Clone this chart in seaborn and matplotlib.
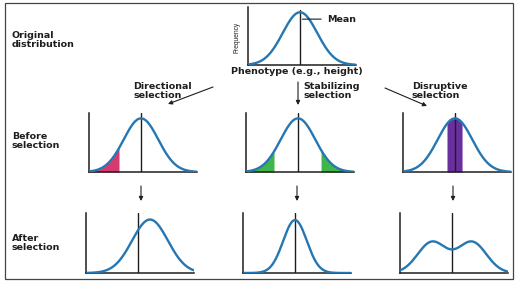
import numpy as np
import matplotlib
matplotlib.use("Agg")
import matplotlib.pyplot as plt
import seaborn as sns
from matplotlib.patches import Rectangle

sns.set_theme(style="white")
plt.rcParams['font.family'] = ['DejaVu Sans']

W, H = 521, 285

# ---------------- data ----------------
row_labels = ["Original\ndistribution", "Before\nselection", "After\nselection"]
selection_labels = ["Directional\nselection", "Stabilizing\nselection", "Disruptive\nselection"]
freq_label = "Frequency"
pheno_label = "Phenotype (e.g., height)"
mean_label = "Mean"

# Curves as Gaussian components: (centre, sd, weight), in units of the phenotype axis
original_components = [(0.0, 1.08, 1.0)]
before_components = [[(0.0, 1.08, 1.0)], [(0.0, 1.08, 1.0)], [(0.0, 1.08, 1.0)]]
after_components = [[(0.75, 1.12, 1.0)],
                    [(0.0, 0.74, 1.0)],
                    [(-1.25, 0.9, 1.0), (1.25, 0.9, 1.0)]]
original_peak = 1.0
before_peaks = [1.0, 1.0, 1.0]
after_peaks = [0.98, 0.97, 0.58]
# phenotype ranges hit by selection (shaded)
shade_ranges = [[(-3.25, -1.375)], [(-3.25, -1.5), (1.44, 3.5)], [(-0.5, 0.44)]]
shade_colors = ["#d63a6e", "#3fb54b", "#6a2f9f"]

XMIN, XMAX = -3.25, 3.5
BLUE = "#2577b3"
INK = "#1e1e1e"


def density(comps, peak, xs):
    ys = np.zeros_like(xs)
    for c, s, w in comps:
        ys += w * np.exp(-0.5 * ((xs - c) / s) ** 2)
    fine = np.linspace(XMIN, XMAX, 2000)
    ref = np.zeros_like(fine)
    for c, s, w in comps:
        ref += w * np.exp(-0.5 * ((fine - c) / s) ** 2)
    return ys / ref.max() * peak


fig = plt.figure(figsize=(W / 100, H / 100), dpi=100)
fig.patch.set_facecolor("white")


def panel(left, top, bottom, comps, peak, shades=(), shade_color=None, mean_top=1.0):
    ax = fig.add_axes([left / W, 1 - bottom / H, 108 / W, (bottom - top) / H])
    ax.patch.set_alpha(0)
    for lo, hi in shades:
        fx = np.linspace(lo, hi, 120)
        ax.fill_between(fx, density(comps, peak, fx), 0, color=shade_color, lw=0, zorder=1)
    ax.axvline(0, ymin=0, ymax=mean_top, color=INK, lw=1.0, zorder=2)
    xs = np.linspace(XMIN, XMAX, 500)
    ys = density(comps, peak, xs)
    sns.lineplot(x=xs, y=ys, ax=ax, color=BLUE, lw=1.7, estimator=None, zorder=3)
    ax.set_xlim(XMIN, XMAX)
    ax.set_ylim(0, 1.1)
    ax.set_xticks([])
    ax.set_yticks([])
    for s in ["top", "right"]:
        ax.spines[s].set_visible(False)
    for s in ["left", "bottom"]:
        ax.spines[s].set_color(INK)
        ax.spines[s].set_linewidth(1.1)
    ax.set_xlabel("")
    ax.set_ylabel("")
    return ax


# original distribution
top_ax = panel(248, 7, 65, original_components, original_peak, mean_top=0.95)
top_ax.annotate(mean_label, xy=(0.15, 0.87), xytext=(1.7, 0.87), ha="left", va="center",
                fontsize=6.8, fontweight="bold", color=INK,
                arrowprops=dict(arrowstyle="-", lw=0.8, color=INK, shrinkA=2, shrinkB=0))
top_ax.text(-0.1, 0.47, freq_label, transform=top_ax.transAxes, rotation=90,
            ha="center", va="center", fontsize=4.8, family="Liberation Sans", color=INK)

mid_lefts = [89, 246, 403]
bot_lefts = [86, 243, 400]
for i in range(3):
    panel(mid_lefts[i], 113, 172, before_components[i], before_peaks[i],
          shades=shade_ranges[i], shade_color=shade_colors[i])
    panel(bot_lefts[i], 213, 273, after_components[i], after_peaks[i])

# overlay in pixel coordinates for labels, arrows and frame
ov = fig.add_axes([0, 0, 1, 1])
ov.set_xlim(0, W)
ov.set_ylim(H, 0)
ov.axis("off")
ov.patch.set_alpha(0)
ov.add_patch(Rectangle((5, 3), 508, 276, fill=False, ec="#444444", lw=0.9))

tkw = dict(fontsize=6.8, fontweight="bold", color=INK, linespacing=1.05)
row_y = [40, 141, 243]
for lab, y in zip(row_labels, row_y):
    ov.text(12, y, lab, ha="left", va="center", **tkw)

ov.text(297, 72, pheno_label, ha="center", va="center", **tkw)

sel_x = [133, 303, 412]
for lab, x in zip(selection_labels, sel_x):
    ov.text(x, 91, lab, ha="left", va="center", **tkw)

akw = dict(arrowstyle="-|>", lw=0.8, color=INK, mutation_scale=6, shrinkA=0, shrinkB=0)
ov.annotate("", xy=(168, 104), xytext=(213, 87), arrowprops=akw)
ov.annotate("", xy=(298, 105), xytext=(298, 82), arrowprops=akw)
ov.annotate("", xy=(427, 106), xytext=(385, 88), arrowprops=akw)
for x in [141, 297, 453]:
    ov.annotate("", xy=(x, 201), xytext=(x, 186), arrowprops=akw)

fig.savefig("out.png", dpi=100)
